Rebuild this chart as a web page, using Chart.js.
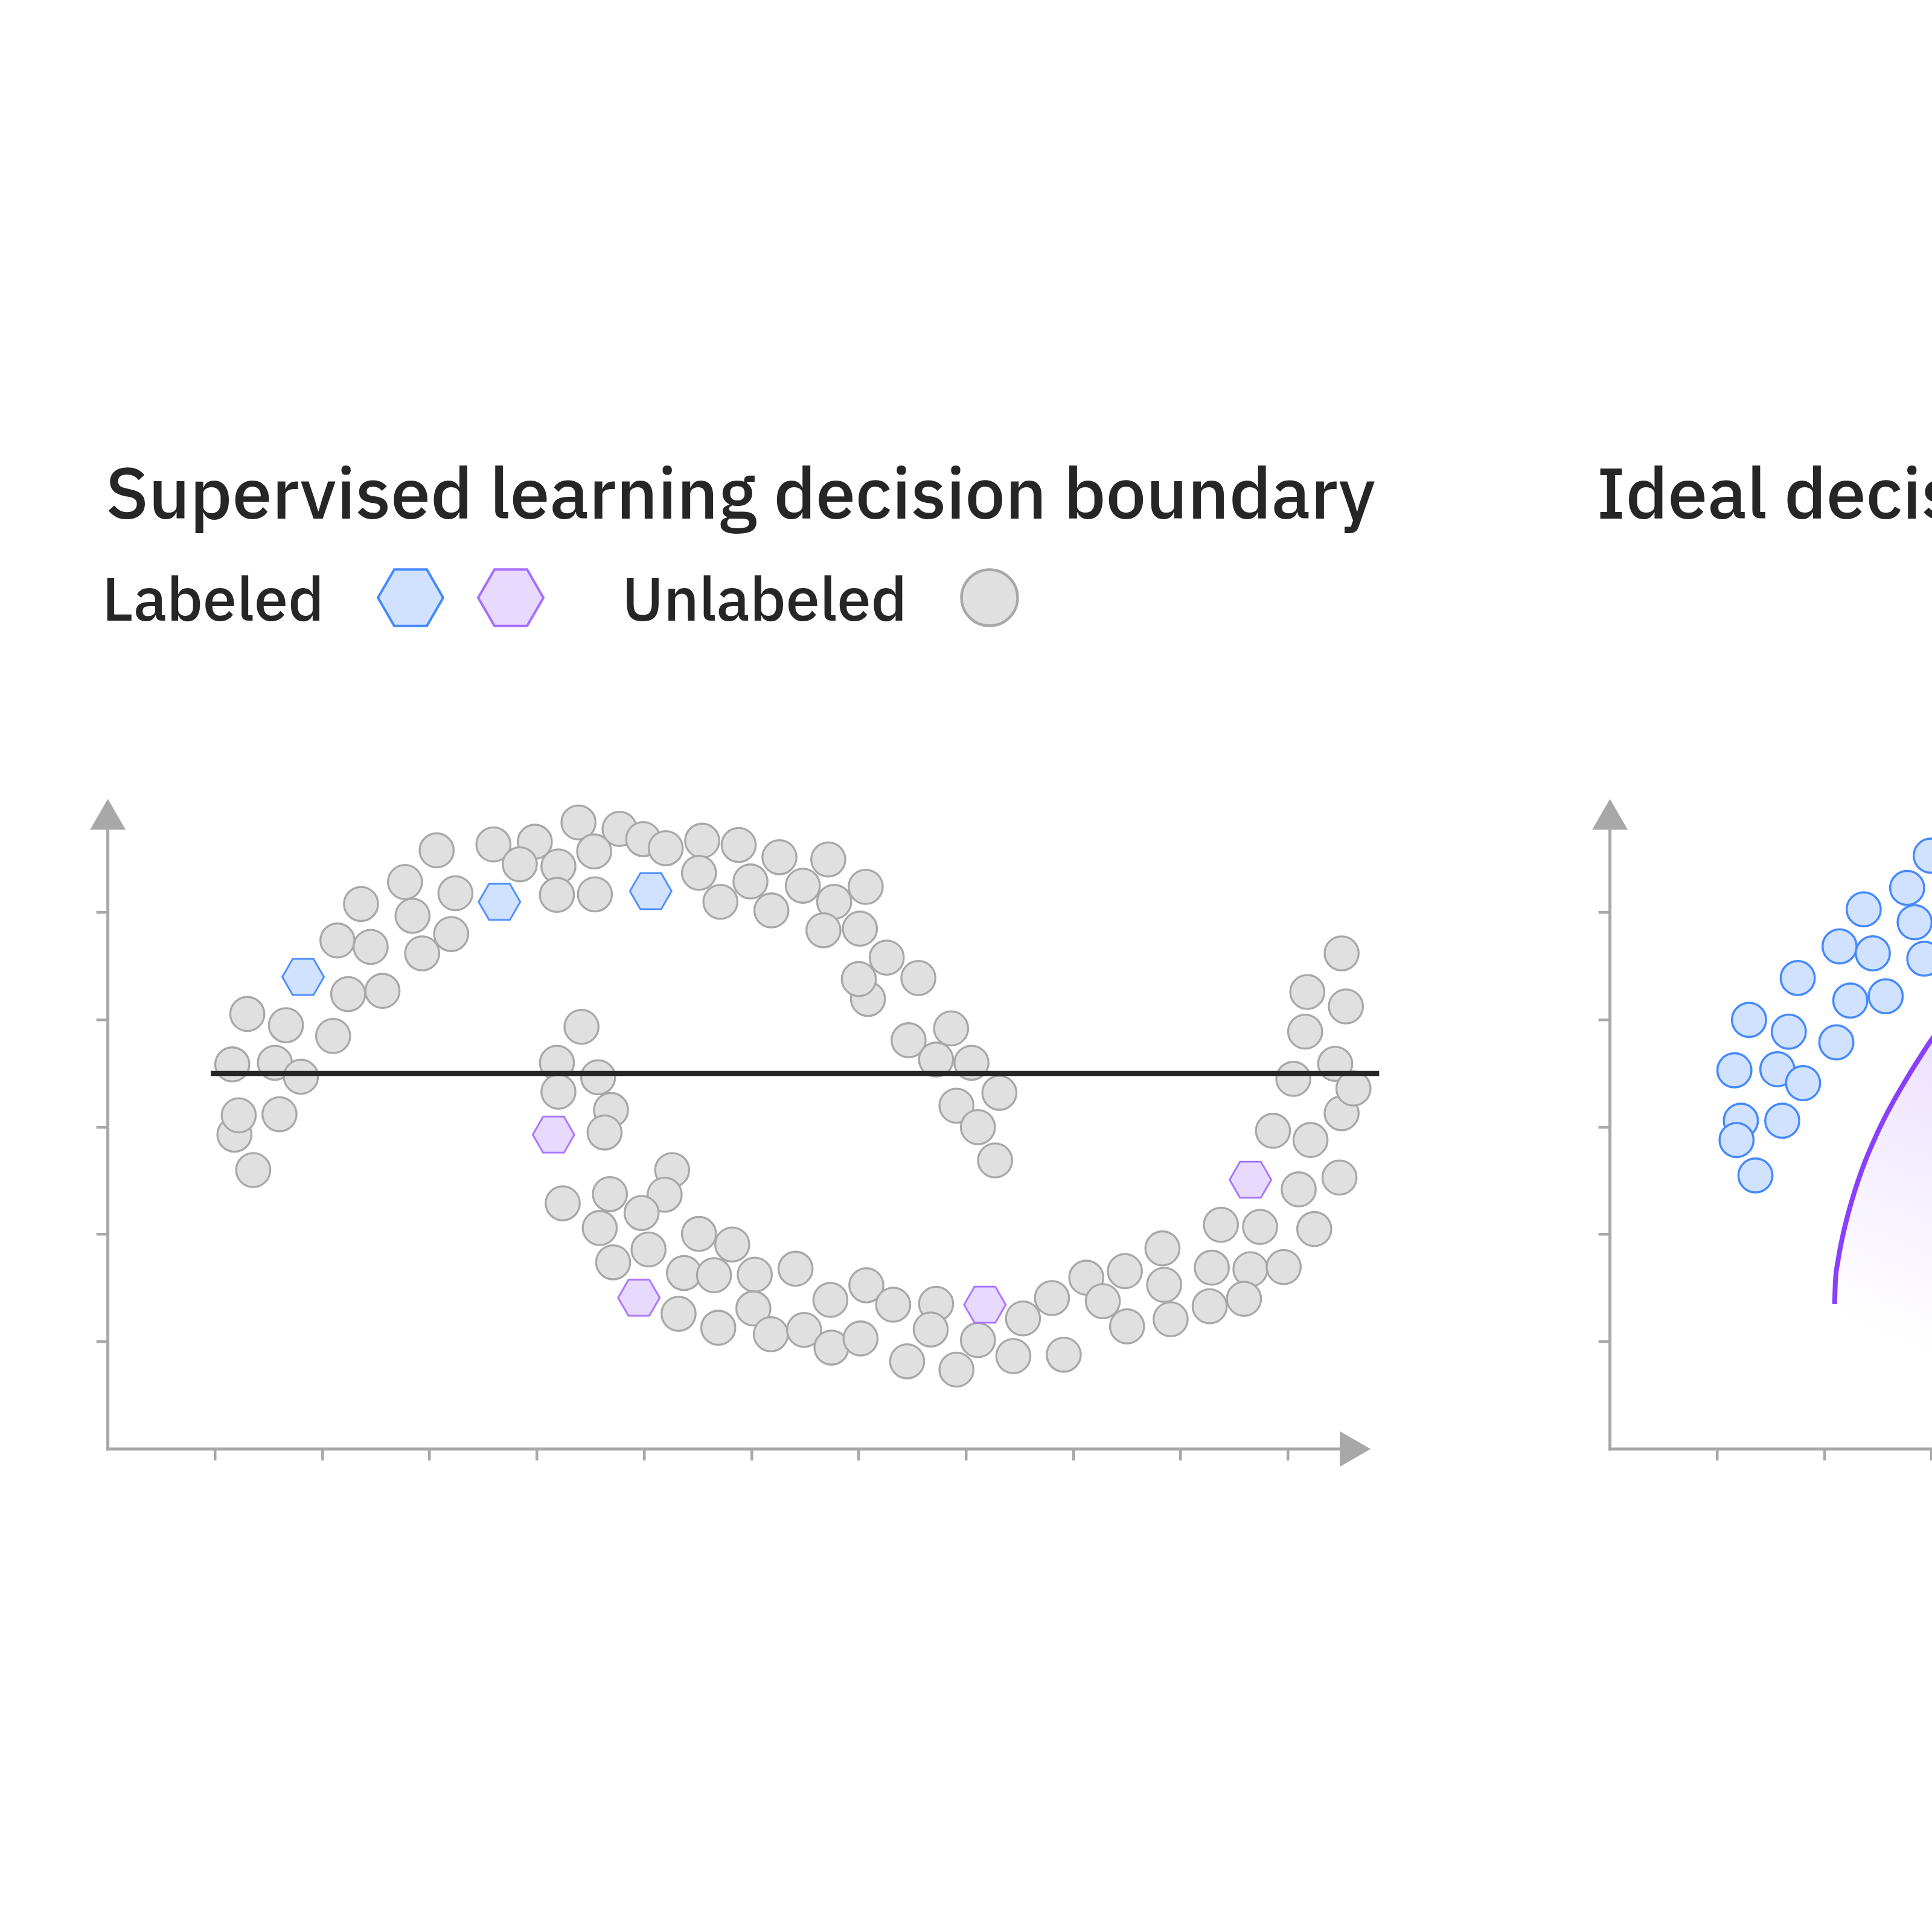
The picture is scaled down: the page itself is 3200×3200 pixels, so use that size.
<!DOCTYPE html>
<html>
<head>
<meta charset="utf-8">
<script src="https://cdn.jsdelivr.net/npm/chart.js@4.4.1/dist/chart.umd.min.js"></script>
<style>
  html, body { margin:0; padding:0; background:#ffffff; width:3200px; height:3200px; overflow:hidden; position:relative; }
  canvas { position:absolute; top:0; }
  .txt { position:absolute; white-space:nowrap; color:#262626; font-family:'IBM Plex Sans', Inter, 'Noto Sans', sans-serif; font-weight:500; margin:0; }
  svg { position:absolute; left:0; top:0; overflow:visible; }
</style>
</head>
<body>
<div id="title1" class="txt">Supervised learning decision boundary</div>
<div id="legLabeled" class="txt">Labeled</div>
<div id="legUnlabeled" class="txt">Unlabeled</div>
<div id="title2" class="txt">Ideal decision boundary</div>
<svg width="3200" height="1200" id="legendSvg"></svg>
<canvas id="chart1" width="2500" height="3200" style="left:0px"></canvas>
<canvas id="chart2" width="2500" height="3200" style="left:2488px"></canvas>
<script>
// ---------------- DATA ----------------
// Upper moon, unlabeled points (left panel)
const upperX = [1.355,1.18,1.22,1.60,1.16,1.557,1.80,1.30,1.66,2.10,2.24,2.56,2.14,2.45,2.93,2.36,2.84,3.20,2.77,3.24,
  3.065,3.594,3.98,3.84,4.20,4.186,4.54,4.387,4.533,4.77,4.99,5.20,5.54,5.51,5.71,5.88,5.99,6.26,6.185,6.715,
  6.478,6.77,7.064,6.67,7.01,7.26,7.085,7.0,7.555,7.464,7.86,7.72,8.05,8.31,7.91,8.11,8.27];
const upperY = [2.60,2.93,3.11,3.12,3.585,3.60,3.47,4.055,3.95,3.85,4.24,4.27,4.74,4.68,4.62,5.08,4.97,4.80,5.285,5.18,
  5.58,5.635,5.66,5.45,5.43,5.165,5.17,5.84,5.57,5.78,5.685,5.60,5.67,5.37,5.10,5.63,5.29,5.516,5.02,5.495,
  5.25,5.10,5.24,4.835,4.85,4.58,4.195,4.38,4.39,3.81,3.92,3.63,3.60,3.32,3.20,3.00,2.69];
// Lower moon, unlabeled points (left panel)
const lowerX = [4.415,4.186,4.57,4.20,4.69,4.63,4.24,4.68,5.26,5.19,4.975,4.585,5.04,4.71,5.51,5.82,5.37,5.65,5.32,5.69,
  6.03,6.41,6.017,6.18,6.49,6.745,7.016,6.735,7.07,7.32,7.72,7.67,7.45,7.91,8.11,8.44,8.53,8.80,8.91,9.12,
  9.274,9.48,9.50,9.83,9.846,9.906,10.29,10.27,10.65,10.59,10.96,10.375,10.74,11.245,11.10,11.48,10.86,11.21,11.50,11.05,
  11.44,11.61,11.16,11.54,11.18,11.50];
const lowerY = [3.935,3.60,3.465,3.33,3.16,2.95,2.29,2.376,2.60,2.37,2.20,2.06,1.86,1.74,2.005,1.906,1.64,1.62,1.26,1.13,
  1.625,1.68,1.31,1.07,1.11,0.945,1.03,1.39,1.526,1.345,1.353,1.114,0.817,0.74,1.015,0.866,1.217,1.407,0.879,1.597,
  1.378,1.658,1.143,1.87,1.53,1.21,1.69,1.33,1.675,1.40,1.696,2.09,2.07,2.05,2.42,2.53,2.966,2.88,3.13,3.45,
  3.59,3.36,3.89,4.125,4.26,4.62];
// Labeled points (left panel)
const labeledUpperX = [1.82, 3.65, 5.06];
const labeledUpperY = [4.40, 5.10, 5.20];
const labeledLowerX = [4.154, 4.95, 8.175, 10.65];
const labeledLowerY = [2.93, 1.41, 1.345, 2.51];
// Upper-moon points as read in the visible part of the right panel
const idealUpperX = [2.99,2.77,2.365,2.84,2.14,2.45,2.93,1.75,2.24,2.57,1.296,1.667,2.11,1.16,1.56,1.80,1.22,1.606,1.18,1.356];
const idealUpperY = [5.53,5.23,5.03,4.91,4.685,4.62,4.57,4.39,4.18,4.22,4.00,3.89,3.79,3.53,3.54,3.41,3.06,3.06,2.88,2.55];
// Decision boundaries
const supervisedBoundaryX = [0.96, 11.85];
const supervisedBoundaryY = [3.5, 3.5];
const idealBoundaryX = [2.094, 2.101, 2.124, 2.158, 2.201, 2.252, 2.311, 2.379, 2.458, 2.546, 2.645, 2.754, 2.870, 2.992,
  3.4, 4.0, 4.8, 5.6, 6.4, 7.0, 7.5, 8.0, 8.6, 9.3, 9.8, 10.2, 10.4];
const idealBoundaryY = [1.351, 1.557, 1.744, 1.932, 2.120, 2.307, 2.495, 2.683, 2.870, 3.058, 3.245, 3.433, 3.620, 3.808,
  4.3, 4.65, 4.8, 4.65, 4.2, 3.6, 2.9, 2.2, 1.9, 2.2, 2.9, 3.8, 4.6];
// Axis ticks (no labels)
const xTickValues = [1,2,3,4,5,6,7,8,9,10,11];
const yTickValues = [1,2,3,4,5];
// Text
const title1Text = 'Supervised learning decision boundary';
const title2Text = 'Ideal decision boundary';
const legendLabeledText = 'Labeled';
const legendUnlabeledText = 'Unlabeled';

// ---------------- STYLE / LAYOUT ----------------
const AXIS_COLOR = '#a8a8a8';
const GREY_FILL = '#e0e0e0', GREY_LINE = '#a8a8a8';
const BLUE_FILL = '#d0e2ff', BLUE_LINE = '#4589ff';
const PURPLE_FILL = '#e8daff', PURPLE_LINE = '#a56eff';
const BOUNDARY_BLACK = '#262626', BOUNDARY_PURPLE = '#8a3ffc';
const ORIGIN_X = 178.6, ORIGIN_Y = 2400, UNIT = 177.7;
const X_MIN = 0, X_MAX = 12, Y_MIN = 0, Y_MAX = 6.2;
const X_ARROW_TIP = 11.77, Y_ARROW_TIP = 6.06;
const CANVAS_W = 2500, CANVAS_H = 3200, AXIS_BOX = 40;
const VISIBLE_LIMIT_X = 3.1; // right panel is cut by the window edge near x = 3

// ---------------- TEXT & LEGEND ----------------
const FONT_FAMILY = "'IBM Plex Sans', Inter, 'Noto Sans', sans-serif";
const FONT_WEIGHT = 500;
const mctx = document.createElement('canvas').getContext('2d');
function fitSize(text, targetWidth) {
  mctx.font = `${FONT_WEIGHT} 100px ${FONT_FAMILY}`;
  const m = mctx.measureText(text);
  return 100 * targetWidth / (m.actualBoundingBoxRight + m.actualBoundingBoxLeft);
}
function placeText(id, text, size, inkLeft, baseline) {
  const el = document.getElementById(id);
  mctx.font = `${FONT_WEIGHT} ${size}px ${FONT_FAMILY}`;
  const m = mctx.measureText(text);
  el.textContent = text;
  el.style.fontSize = size + 'px';
  el.style.lineHeight = (m.fontBoundingBoxAscent + m.fontBoundingBoxDescent) + 'px';
  el.style.left = (inkLeft + m.actualBoundingBoxLeft) + 'px';
  el.style.top = (baseline - m.fontBoundingBoxAscent) + 'px';
}
const titleSize = fitSize(title1Text, 2098);
const legendSize = fitSize(legendUnlabeledText, 457);
placeText('title1', title1Text, titleSize, 179, 859);
placeText('title2', title2Text, titleSize, 2650, 859);
placeText('legLabeled', legendLabeledText, legendSize, 177, 1028);
placeText('legUnlabeled', legendUnlabeledText, legendSize, 1038, 1028);

function hexPath(cx, cy, r) {
  const pts = [];
  for (let k = 0; k < 6; k++) { const a = Math.PI / 3 * k; pts.push((cx + r * Math.cos(a)).toFixed(1) + ',' + (cy + r * Math.sin(a)).toFixed(1)); }
  return pts.join(' ');
}
document.getElementById('legendSvg').innerHTML =
  `<polygon points="${hexPath(680, 990, 54)}" fill="${BLUE_FILL}" stroke="${BLUE_LINE}" stroke-width="4"/>` +
  `<polygon points="${hexPath(846, 990, 54)}" fill="${PURPLE_FILL}" stroke="${PURPLE_LINE}" stroke-width="4"/>` +
  `<circle cx="1639" cy="990" r="46.5" fill="${GREY_FILL}" stroke="${GREY_LINE}" stroke-width="4.5"/>`;

// ---------------- CHART HELPERS ----------------
const zip = (xs, ys) => xs.map((x, i) => ({x, y: ys[i]}));

function makeHexagon(r, fill, stroke, lw) {
  const size = Math.ceil(2 * r + lw + 4);
  const c = document.createElement('canvas');
  c.width = size; c.height = size;
  const g = c.getContext('2d');
  const cx = size / 2, cy = size / 2;
  g.beginPath();
  for (let k = 0; k < 6; k++) {
    const a = Math.PI / 3 * k;
    const px = cx + r * Math.cos(a), py = cy + r * Math.sin(a);
    if (k === 0) g.moveTo(px, py); else g.lineTo(px, py);
  }
  g.closePath();
  g.fillStyle = fill; g.fill();
  g.lineWidth = lw; g.strokeStyle = stroke; g.lineJoin = 'miter'; g.stroke();
  return c;
}
const hexBlue = makeHexagon(34.5, BLUE_FILL, BLUE_LINE, 2.8);
const hexPurple = makeHexagon(34.5, PURPLE_FILL, PURPLE_LINE, 2.8);

const axisArrows = {
  id: 'axisArrows',
  beforeDatasetsDraw(chart) {
    const {ctx, scales: {x, y}} = chart;
    const ox = x.getPixelForValue(0), oy = y.getPixelForValue(0);
    const tipX = x.getPixelForValue(X_ARROW_TIP), tipY = y.getPixelForValue(Y_ARROW_TIP);
    const ah = 51, aw = 59, lw = 5;
    ctx.save();
    ctx.strokeStyle = AXIS_COLOR; ctx.fillStyle = AXIS_COLOR; ctx.lineWidth = lw; ctx.lineCap = 'butt';
    ctx.beginPath(); ctx.moveTo(ox, oy + lw / 2); ctx.lineTo(ox, tipY + ah); ctx.stroke();
    ctx.beginPath(); ctx.moveTo(ox - lw / 2, oy); ctx.lineTo(tipX - ah, oy); ctx.stroke();
    ctx.beginPath(); ctx.moveTo(ox, tipY); ctx.lineTo(ox - aw / 2, tipY + ah); ctx.lineTo(ox + aw / 2, tipY + ah); ctx.closePath(); ctx.fill();
    ctx.beginPath(); ctx.moveTo(tipX, oy); ctx.lineTo(tipX - ah, oy - aw / 2); ctx.lineTo(tipX - ah, oy + aw / 2); ctx.closePath(); ctx.fill();
    ctx.restore();
  }
};

function scaleOptions(min, max, tickValues) {
  return {
    type: 'linear', min, max,
    afterBuildTicks: s => { s.ticks = tickValues.map(v => ({value: v})); },
    afterFit: s => { if (s.isHorizontal()) s.height = AXIS_BOX; else s.width = AXIS_BOX; },
    ticks: { display: false },
    grid: { display: true, drawOnChartArea: false, drawTicks: true, tickLength: 19, tickWidth: 4.5, tickColor: AXIS_COLOR, color: AXIS_COLOR, lineWidth: 4.5 },
    border: { display: false }
  };
}

function baseOptions() {
  const chartRight = ORIGIN_X + (X_MAX - X_MIN) * UNIT;
  const chartTop = ORIGIN_Y - (Y_MAX - Y_MIN) * UNIT;
  return {
    responsive: false, animation: false, events: [],
    layout: { padding: { left: ORIGIN_X - AXIS_BOX, bottom: CANVAS_H - ORIGIN_Y - AXIS_BOX, top: chartTop, right: CANVAS_W - chartRight } },
    plugins: { legend: { display: false }, tooltip: { enabled: false }, title: { display: false } },
    scales: { x: scaleOptions(X_MIN, X_MAX, xTickValues), y: scaleOptions(Y_MIN, Y_MAX, yTickValues) }
  };
}

function idealFill(ctx) {
  const chart = ctx.chart;
  const x = chart.scales.x, y = chart.scales.y;
  if (!chart.chartArea || !x || !y) return 'rgba(232,218,255,0.3)';
  const x0 = x.getPixelForValue(2.2), y0 = y.getPixelForValue(1.2), x1 = x.getPixelForValue(3.4), y1 = y.getPixelForValue(4.0);
  if (![x0, y0, x1, y1].every(Number.isFinite)) return 'rgba(232,218,255,0.3)';
  const g = chart.ctx.createLinearGradient(x0, y0, x1, y1);
  g.addColorStop(0, 'rgba(232,218,255,0)');
  g.addColorStop(1, 'rgba(232,218,255,0.9)');
  return g;
}

// ---------------- CHART 1 ----------------
new Chart(document.getElementById('chart1'), {
  type: 'scatter',
  data: {
    datasets: [
      { type: 'line', label: 'Supervised boundary', data: zip(supervisedBoundaryX, supervisedBoundaryY),
        borderColor: BOUNDARY_BLACK, borderWidth: 8.5, pointRadius: 0, fill: false, order: 0, clip: false, borderCapStyle: 'butt' },
      { label: 'Labeled A', data: zip(labeledUpperX, labeledUpperY), pointStyle: hexBlue, order: 1, clip: false },
      { label: 'Labeled B', data: zip(labeledLowerX, labeledLowerY), pointStyle: hexPurple, order: 1, clip: false },
      { label: 'Unlabeled', data: zip(upperX, upperY).concat(zip(lowerX, lowerY)), pointRadius: 28.2, borderWidth: 3.3,
        backgroundColor: GREY_FILL, borderColor: GREY_LINE, order: 3, clip: false }
    ]
  },
  options: baseOptions(),
  plugins: [axisArrows]
});

// ---------------- CHART 2 ----------------
const classA = zip(idealUpperX, idealUpperY)
  .concat(zip(upperX, upperY).filter(p => p.x > VISIBLE_LIMIT_X))
  .concat(zip(labeledUpperX, labeledUpperY).filter(p => p.x > VISIBLE_LIMIT_X));
const classB = zip(lowerX, lowerY).concat(zip(labeledLowerX, labeledLowerY));

new Chart(document.getElementById('chart2'), {
  type: 'scatter',
  data: {
    datasets: [
      { type: 'line', label: 'Ideal boundary', data: zip(idealBoundaryX, idealBoundaryY),
        borderColor: BOUNDARY_PURPLE, borderWidth: 8, pointRadius: 0, cubicInterpolationMode: 'monotone', order: 5, clip: false,
        borderCapStyle: 'butt', fill: 'origin', backgroundColor: idealFill },
      { label: 'Class A', data: classA, pointRadius: 28.2, borderWidth: 3.5,
        backgroundColor: BLUE_FILL, borderColor: BLUE_LINE, order: 1, clip: false },
      { label: 'Class B', data: classB, pointRadius: 28.2, borderWidth: 3.5,
        backgroundColor: PURPLE_FILL, borderColor: PURPLE_LINE, order: 1, clip: false }
    ]
  },
  options: baseOptions(),
  plugins: [axisArrows]
});
</script>
</body>
</html>
